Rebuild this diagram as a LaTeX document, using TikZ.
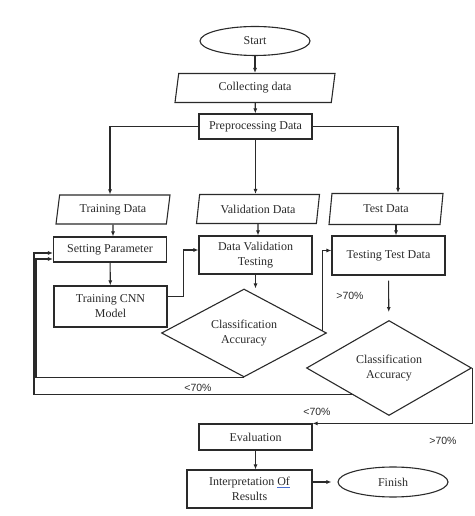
\documentclass[tikz,border=0pt]{standalone}
\usepackage{fontspec}
\setmainfont{Liberation Serif}
\newfontfamily\pctfont{Liberation Sans}
\usepackage{xcolor}
\usepackage{tikz}
\usetikzlibrary{arrows.meta, calc, shapes.geometric}
\definecolor{Ink}{HTML}{2A2A2A}
\definecolor{Spell}{HTML}{4A6FD0}
\newcommand{\boxfont}{\fontsize{12}{15}\selectfont}
\tikzset{
  flow/.style={-{Latex[length=5pt,width=4pt]}, line width=1.1pt, color=Ink},
  terminal/.style={ellipse, draw=Ink, line width=1.1pt, minimum width=110pt, minimum height=29pt, inner sep=0pt, font=\boxfont, text=Ink},
  iobox/.style={trapezium, trapezium left angle=76, trapezium right angle=104, trapezium stretches body, draw=Ink, line width=1.1pt, minimum width=114pt, minimum height=29pt, inner sep=2pt, font=\boxfont, text=Ink},
  procbox/.style={rectangle, draw=Ink, line width=1.1pt, minimum width=113pt, minimum height=25pt, align=center, font=\boxfont, text=Ink},
  decision/.style={diamond, draw=Ink, line width=1.1pt, aspect=2, minimum width=165pt, minimum height=88pt, inner sep=0pt, align=center, font=\boxfont, text=Ink},
  pct/.style={font=\pctfont\fontsize{10.5}{12}\selectfont, text=Ink},
}

\begin{document}
\begin{tikzpicture}[x=1pt, y=1pt]
  \useasboundingbox (0,0) rectangle (474,516);

  % Start and data preparation
  \node[terminal] (start) at (255,475) {Start};
  \node[iobox, minimum width=160pt] (collect) at (255,428) {Collecting data};
  \node[procbox] (prep) at (255.5,389.5) {Preprocessing Data};

  % Data split
  \node[iobox] (train) at (113,306.5) {Training Data};
  \node[iobox, minimum width=123pt] (valid) at (258,307) {Validation Data};
  \node[iobox, minimum height=31pt] (test) at (386,307) {Test Data};

  % Training and testing
  \node[procbox] (setp) at (110,266.5) {Setting Parameter};
  \node[procbox, minimum height=38pt] (dvt) at (255.5,261) {Data Validation\\Testing};
  \node[procbox, minimum height=39pt] (ttd) at (388.5,260.5) {Testing Test Data};
  \node[procbox, minimum height=41pt] (cnn) at (110.5,209.5) {Training CNN\\Model};
  \node[decision] (acc1) at (244,183) {Classification\\Accuracy};
  \node[decision, minimum height=95pt] (acc2) at (389,148) {Classification\\Accuracy};

  % Results
  \node[procbox, minimum height=26pt] (eval) at (255.5,79) {Evaluation};
  \node[procbox, minimum width=125pt, minimum height=38pt] (interp) at (249.5,27)
    {Interpretation \textcolor{Spell}{\underline{\textcolor{Ink}{Of}}}\\Results};
  \node[terminal, minimum height=30pt] (finish) at (393,34) {Finish};

  % Loop points
  \coordinate (loopin) at ([xshift=-17pt,yshift=-9.5pt]setp.west);
  \coordinate (loopout) at ([xshift=-19pt,yshift=-3.5pt]setp.west);
  \coordinate (acc1up) at ($(acc1.east)!0.05!(acc1.north)$);
  \coordinate (acc2lo) at ($(acc2.west)!0.55!(acc2.south)$);

  % Connectors
  \draw[flow] (start) -- (collect);
  \draw[flow] (collect) -- (prep);
  \draw[flow] (prep.west) -| ([xshift=-3pt]train.north);
  \draw[flow] (prep) -- (prep |- valid.north);
  \draw[flow] (prep.east) -| ([xshift=12pt]test.north);
  \draw[flow] (train) -- (train |- setp.north);
  \draw[flow] (valid) -- (valid |- dvt.north);
  \draw[flow] ([xshift=10pt]test.south) -- ([xshift=10pt]test.south |- ttd.north);
  \draw[flow] (setp) -- (cnn);
  \draw[flow] ([yshift=10pt]cnn.east) -- ++(16,0) |- ([yshift=5pt]dvt.west);
  \draw[flow] (dvt.south) -- (dvt.south |- acc1.north);
  \draw[flow] (acc1up) |- ([yshift=5pt]ttd.west);
  \draw[flow, shorten <=5pt, shorten >=8pt] (ttd) -- (acc2);
  \draw[flow] (acc1.south) -| (loopin) -- ([yshift=-9.5pt]setp.west);
  \draw[flow] (acc2lo) -| (loopout) -- ([yshift=-3.5pt]setp.west);
  \draw[flow] (acc2.east) |- (eval.north east);
  \draw[flow] (eval) -- (eval |- interp.north);
  \draw[flow, shorten >=6pt] (interp.east |- finish.west) -- (finish.west);

  % Thresholds
  \node[pct] (gt1) at (350,220) {>70\%};
  \node[pct] (lt1) at (198,128) {<70\%};
  \node[pct] (lt2) at (317,104) {<70\%};
  \node[pct] (gt2) at (443,75) {>70\%};
\end{tikzpicture}
\end{document}
